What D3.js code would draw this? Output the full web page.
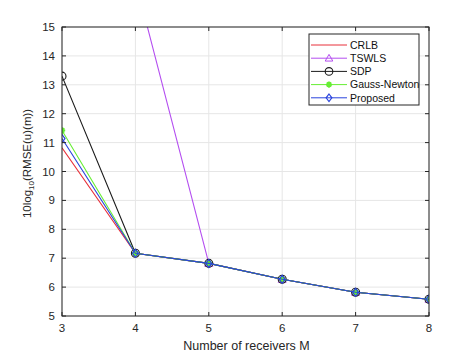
<!DOCTYPE html>
<html><head><meta charset="utf-8">
<script src="https://cdn.jsdelivr.net/npm/d3@7"></script>
<style>
body{margin:0;background:#fff;}
svg{display:block;font-family:"Liberation Sans",Arial,sans-serif;}
</style></head><body>
<svg id="c" width="474" height="355"></svg>
<script>
const receivers = [3, 4, 5, 6, 7, 8];
const crlb     = [10.82, 7.17, 6.82, 6.27, 5.82, 5.58];
const tswls    = [24.0, 16.6, 6.82, 6.27, 5.82, 5.58];
const sdp      = [13.30, 7.17, 6.82, 6.27, 5.82, 5.58];
const gaussNewton = [11.42, 7.17, 6.82, 6.27, 5.82, 5.58];
const proposed = [11.14, 7.17, 6.82, 6.27, 5.82, 5.58];
const xTicks = [3, 4, 5, 6, 7, 8];
const yTicks = [5, 6, 7, 8, 9, 10, 11, 12, 13, 14, 15];

const series = [
  {name: "CRLB", values: crlb, color: "#e8303a", marker: "none"},
  {name: "TSWLS", values: tswls, color: "#b44ef0", marker: "triangle"},
  {name: "SDP", values: sdp, color: "#1a1a1a", marker: "circle"},
  {name: "Gauss-Newton", values: gaussNewton, color: "#66ee33", marker: "star"},
  {name: "Proposed", values: proposed, color: "#2a44dd", marker: "diamond"}
];

const svg = d3.select("#c");
const L = 62, R = 429, T = 27, B = 316;
const x = d3.scaleLinear().domain([3, 8]).range([L, R]);
const y = d3.scaleLinear().domain([5, 15]).range([B, T]);

// grid
const g = svg.append("g");
g.selectAll(".gx").data(xTicks).enter().append("line")
  .attr("x1", d => x(d)).attr("x2", d => x(d)).attr("y1", T).attr("y2", B)
  .attr("stroke", "#e6e6e6").attr("stroke-width", 1);
g.selectAll(".gy").data(yTicks).enter().append("line")
  .attr("x1", L).attr("x2", R).attr("y1", d => y(d)).attr("y2", d => y(d))
  .attr("stroke", "#e6e6e6").attr("stroke-width", 1);

// clip
svg.append("defs").append("clipPath").attr("id", "clip")
  .append("rect").attr("x", L).attr("y", T).attr("width", R - L).attr("height", B - T);

const plot = svg.append("g").attr("clip-path", "url(#clip)");
const line = d3.line().x((d, i) => x(receivers[i])).y(d => y(d));

function drawMarker(sel, type, color, size) {
  const s = size;
  if (type === "circle") {
    sel.append("circle").attr("r", s).attr("fill", "none").attr("stroke", color).attr("stroke-width", 1.1);
  } else if (type === "triangle") {
    sel.append("path").attr("d", `M0,${-s}L${s},${s*0.75}L${-s},${s*0.75}Z`)
      .attr("fill", "none").attr("stroke", color).attr("stroke-width", 1);
  } else if (type === "diamond") {
    sel.append("path").attr("d", `M0,${-s}L${s*0.75},0L0,${s}L${-s*0.75},0Z`)
      .attr("fill", "none").attr("stroke", color).attr("stroke-width", 1.2);
  } else if (type === "star") {
    const a = s * 0.8;
    sel.append("path").attr("d", `M${-a},0L${a},0M0,${-a}L0,${a}M${-a*0.7},${-a*0.7}L${a*0.7},${a*0.7}M${-a*0.7},${a*0.7}L${a*0.7},${-a*0.7}`)
      .attr("fill", "none").attr("stroke", color).attr("stroke-width", 1.8);
  }
}

series.forEach(s => {
  plot.append("path").datum(s.values).attr("d", line)
    .attr("fill", "none").attr("stroke", s.color).attr("stroke-width", 1.1);
  if (s.marker !== "none") {
    s.values.forEach((v, i) => {
      if (v > 15 || v < 5) return;
      const m = plot.append("g").attr("transform", `translate(${x(receivers[i])},${y(v)})`);
      drawMarker(m, s.marker, s.color, 4);
    });
  }
});

// axes box
svg.append("rect").attr("x", L).attr("y", T).attr("width", R - L).attr("height", B - T)
  .attr("fill", "none").attr("stroke", "#262626").attr("stroke-width", 1);

// ticks inward
xTicks.forEach(t => {
  svg.append("line").attr("x1", x(t)).attr("x2", x(t)).attr("y1", B).attr("y2", B - 4).attr("stroke", "#262626");
  svg.append("line").attr("x1", x(t)).attr("x2", x(t)).attr("y1", T).attr("y2", T + 4).attr("stroke", "#262626");
  svg.append("text").attr("x", x(t)).attr("y", B + 16).attr("text-anchor", "middle")
    .attr("font-size", 11.5).attr("fill", "#262626").text(t);
});
yTicks.forEach(t => {
  svg.append("line").attr("x1", L).attr("x2", L + 4).attr("y1", y(t)).attr("y2", y(t)).attr("stroke", "#262626");
  svg.append("line").attr("x1", R).attr("x2", R - 4).attr("y1", y(t)).attr("y2", y(t)).attr("stroke", "#262626");
  svg.append("text").attr("x", L - 7).attr("y", y(t) + 4).attr("text-anchor", "end")
    .attr("font-size", 11.5).attr("fill", "#262626").text(t);
});

svg.append("text").attr("x", (L + R) / 2 + 1).attr("y", 350).attr("text-anchor", "middle")
  .attr("font-size", 12.5).attr("fill", "#262626").text("Number of receivers M");

const yl = svg.append("text").attr("transform", `translate(31,${(T + B) / 2 - 8}) rotate(-90)`)
  .attr("text-anchor", "middle").attr("font-size", 11.5).attr("fill", "#262626");
yl.append("tspan").text("10log");
yl.append("tspan").attr("font-size", 8).attr("dy", 3).text("10");
yl.append("tspan").attr("dy", -3).text("(RMSE(u)(m))");

// legend
const lg = svg.append("g");
lg.append("rect").attr("x", 309).attr("y", 34).attr("width", 110).attr("height", 71)
  .attr("fill", "#fff").attr("stroke", "#262626").attr("stroke-width", 1);
series.forEach((s, i) => {
  const yy = 45 + i * 13.2;
  lg.append("line").attr("x1", 311).attr("x2", 347).attr("y1", yy).attr("y2", yy)
    .attr("stroke", s.color).attr("stroke-width", 1);
  if (s.marker !== "none") {
    const m = lg.append("g").attr("transform", `translate(329,${yy})`);
    drawMarker(m, s.marker, s.color, 3.8);
  }
  lg.append("text").attr("x", 350).attr("y", yy + 3.8).attr("font-size", 10.5)
    .attr("fill", "#111").text(s.name);
});
</script>
</body></html>
